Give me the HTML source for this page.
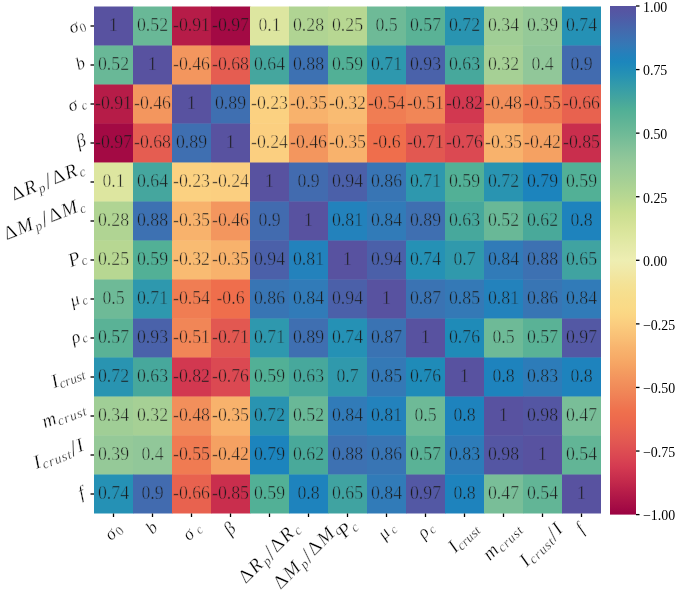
<!DOCTYPE html>
<html><head><meta charset="utf-8"><style>
html,body{margin:0;padding:0;background:#fff;}
svg{display:block;}
.an{font-family:"Liberation Serif","DejaVu Serif",serif;font-size:17.80px;fill:#1a1a1a;text-anchor:middle;}
.lb{font-family:"Liberation Serif","DejaVu Serif",serif;font-size:19.40px;fill:#000;stroke:#fff;stroke-width:0.30px;}
.cl{stroke:none;}
.cl{font-family:"Liberation Serif","DejaVu Serif",serif;font-size:13.90px;fill:#000;}
.tk{stroke:#000;stroke-width:1.30;}
</style></head><body>
<svg width="678" height="594" viewBox="0 0 678 594">
<defs><linearGradient id="cb" x1="0" y1="0" x2="0" y2="1"><stop offset="0.0000" stop-color="#5852a0"/><stop offset="0.0156" stop-color="#5358a4"/><stop offset="0.0312" stop-color="#4b60a9"/><stop offset="0.0469" stop-color="#4469ad"/><stop offset="0.0625" stop-color="#3c71b2"/><stop offset="0.0781" stop-color="#3379b6"/><stop offset="0.0938" stop-color="#2580bb"/><stop offset="0.1094" stop-color="#1c86bc"/><stop offset="0.1250" stop-color="#218db7"/><stop offset="0.1406" stop-color="#2994b1"/><stop offset="0.1562" stop-color="#339baa"/><stop offset="0.1719" stop-color="#3da1a3"/><stop offset="0.1875" stop-color="#47a79c"/><stop offset="0.2031" stop-color="#50af96"/><stop offset="0.2188" stop-color="#5ab296"/><stop offset="0.2344" stop-color="#64b696"/><stop offset="0.2500" stop-color="#6eba97"/><stop offset="0.2656" stop-color="#79be98"/><stop offset="0.2812" stop-color="#84c299"/><stop offset="0.2969" stop-color="#8ec699"/><stop offset="0.3125" stop-color="#97ca98"/><stop offset="0.3281" stop-color="#9ecd97"/><stop offset="0.3438" stop-color="#a6d095"/><stop offset="0.3594" stop-color="#aed493"/><stop offset="0.3750" stop-color="#b7d792"/><stop offset="0.3906" stop-color="#c0db90"/><stop offset="0.4062" stop-color="#cadf90"/><stop offset="0.4219" stop-color="#d1e195"/><stop offset="0.4375" stop-color="#d8e49a"/><stop offset="0.4531" stop-color="#dde7a0"/><stop offset="0.4688" stop-color="#e3e9a7"/><stop offset="0.4844" stop-color="#e8ebad"/><stop offset="0.5000" stop-color="#eeeeb2"/><stop offset="0.5156" stop-color="#f0eaaa"/><stop offset="0.5312" stop-color="#f2e6a0"/><stop offset="0.5469" stop-color="#f4e296"/><stop offset="0.5625" stop-color="#f6df8f"/><stop offset="0.5781" stop-color="#f8dc8a"/><stop offset="0.5938" stop-color="#fada87"/><stop offset="0.6094" stop-color="#fbd583"/><stop offset="0.6250" stop-color="#fbcd7f"/><stop offset="0.6406" stop-color="#fac579"/><stop offset="0.6562" stop-color="#f9bd74"/><stop offset="0.6719" stop-color="#f8b46e"/><stop offset="0.6875" stop-color="#f7ad69"/><stop offset="0.7031" stop-color="#f6a564"/><stop offset="0.7188" stop-color="#f49c60"/><stop offset="0.7344" stop-color="#f3935d"/><stop offset="0.7500" stop-color="#f18b59"/><stop offset="0.7656" stop-color="#f08256"/><stop offset="0.7812" stop-color="#ef7952"/><stop offset="0.7969" stop-color="#ef704d"/><stop offset="0.8125" stop-color="#ed6a4d"/><stop offset="0.8281" stop-color="#e9644f"/><stop offset="0.8438" stop-color="#e55d51"/><stop offset="0.8594" stop-color="#e15652"/><stop offset="0.8750" stop-color="#dd4d52"/><stop offset="0.8906" stop-color="#d94452"/><stop offset="0.9062" stop-color="#d43a51"/><stop offset="0.9219" stop-color="#cb314e"/><stop offset="0.9375" stop-color="#c2284b"/><stop offset="0.9531" stop-color="#b81e49"/><stop offset="0.9688" stop-color="#ae1547"/><stop offset="0.9844" stop-color="#a50c45"/><stop offset="1.0000" stop-color="#9b0242"/></linearGradient></defs>
<rect x="0" y="0" width="678" height="594" fill="#ffffff"/>
<rect x="94.00" y="6.50" width="39.40" height="39.40" fill="#5852a0"/>
<rect x="133.00" y="6.50" width="39.40" height="39.40" fill="#69b897"/>
<rect x="172.00" y="6.50" width="39.40" height="39.40" fill="#b61c48"/>
<rect x="211.00" y="6.50" width="39.40" height="39.40" fill="#a30a44"/>
<rect x="250.00" y="6.50" width="39.40" height="39.40" fill="#dde6a0"/>
<rect x="289.00" y="6.50" width="39.40" height="39.40" fill="#b0d493"/>
<rect x="328.00" y="6.50" width="39.40" height="39.40" fill="#b7d792"/>
<rect x="367.00" y="6.50" width="39.40" height="39.40" fill="#6eba97"/>
<rect x="406.00" y="6.50" width="39.40" height="39.40" fill="#5ab296"/>
<rect x="445.00" y="6.50" width="39.40" height="39.40" fill="#2994b1"/>
<rect x="484.00" y="6.50" width="39.40" height="39.40" fill="#a0ce96"/>
<rect x="523.00" y="6.50" width="39.40" height="39.40" fill="#95c998"/>
<rect x="562.00" y="6.50" width="39.00" height="39.40" fill="#2591b5"/>
<rect x="94.00" y="45.50" width="39.40" height="39.40" fill="#69b897"/>
<rect x="133.00" y="45.50" width="39.40" height="39.40" fill="#5852a0"/>
<rect x="172.00" y="45.50" width="39.40" height="39.40" fill="#f3965e"/>
<rect x="211.00" y="45.50" width="39.40" height="39.40" fill="#e55d51"/>
<rect x="250.00" y="45.50" width="39.40" height="39.40" fill="#45a69e"/>
<rect x="289.00" y="45.50" width="39.40" height="39.40" fill="#3d71b2"/>
<rect x="328.00" y="45.50" width="39.40" height="39.40" fill="#52b096"/>
<rect x="367.00" y="45.50" width="39.40" height="39.40" fill="#2e98ae"/>
<rect x="406.00" y="45.50" width="39.40" height="39.40" fill="#4a62aa"/>
<rect x="445.00" y="45.50" width="39.40" height="39.40" fill="#47a89c"/>
<rect x="484.00" y="45.50" width="39.40" height="39.40" fill="#a6d095"/>
<rect x="523.00" y="45.50" width="39.40" height="39.40" fill="#91c799"/>
<rect x="562.00" y="45.50" width="39.00" height="39.40" fill="#426baf"/>
<rect x="94.00" y="84.50" width="39.40" height="39.40" fill="#b61c48"/>
<rect x="133.00" y="84.50" width="39.40" height="39.40" fill="#f3965e"/>
<rect x="172.00" y="84.50" width="39.40" height="39.40" fill="#5852a0"/>
<rect x="211.00" y="84.50" width="39.40" height="39.40" fill="#3f6fb1"/>
<rect x="250.00" y="84.50" width="39.40" height="39.40" fill="#fbd181"/>
<rect x="289.00" y="84.50" width="39.40" height="39.40" fill="#f8b26c"/>
<rect x="328.00" y="84.50" width="39.40" height="39.40" fill="#f9bb72"/>
<rect x="367.00" y="84.50" width="39.40" height="39.40" fill="#f07d53"/>
<rect x="406.00" y="84.50" width="39.40" height="39.40" fill="#f18657"/>
<rect x="445.00" y="84.50" width="39.40" height="39.40" fill="#d23850"/>
<rect x="484.00" y="84.50" width="39.40" height="39.40" fill="#f28f5b"/>
<rect x="523.00" y="84.50" width="39.40" height="39.40" fill="#f07b52"/>
<rect x="562.00" y="84.50" width="39.00" height="39.40" fill="#e8624f"/>
<rect x="94.00" y="123.50" width="39.40" height="39.40" fill="#a30a44"/>
<rect x="133.00" y="123.50" width="39.40" height="39.40" fill="#e55d51"/>
<rect x="172.00" y="123.50" width="39.40" height="39.40" fill="#3f6fb1"/>
<rect x="211.00" y="123.50" width="39.40" height="39.40" fill="#5852a0"/>
<rect x="250.00" y="123.50" width="39.40" height="39.40" fill="#fbcf80"/>
<rect x="289.00" y="123.50" width="39.40" height="39.40" fill="#f3965e"/>
<rect x="328.00" y="123.50" width="39.40" height="39.40" fill="#f8b26c"/>
<rect x="367.00" y="123.50" width="39.40" height="39.40" fill="#ef6e4c"/>
<rect x="406.00" y="123.50" width="39.40" height="39.40" fill="#e25851"/>
<rect x="445.00" y="123.50" width="39.40" height="39.40" fill="#db4952"/>
<rect x="484.00" y="123.50" width="39.40" height="39.40" fill="#f8b26c"/>
<rect x="523.00" y="123.50" width="39.40" height="39.40" fill="#f5a162"/>
<rect x="562.00" y="123.50" width="39.00" height="39.40" fill="#c92e4d"/>
<rect x="94.00" y="162.50" width="39.40" height="39.40" fill="#dde6a0"/>
<rect x="133.00" y="162.50" width="39.40" height="39.40" fill="#45a69e"/>
<rect x="172.00" y="162.50" width="39.40" height="39.40" fill="#fbd181"/>
<rect x="211.00" y="162.50" width="39.40" height="39.40" fill="#fbcf80"/>
<rect x="250.00" y="162.50" width="39.40" height="39.40" fill="#5852a0"/>
<rect x="289.00" y="162.50" width="39.40" height="39.40" fill="#426baf"/>
<rect x="328.00" y="162.50" width="39.40" height="39.40" fill="#4b60a9"/>
<rect x="367.00" y="162.50" width="39.40" height="39.40" fill="#3875b4"/>
<rect x="406.00" y="162.50" width="39.40" height="39.40" fill="#2e98ae"/>
<rect x="445.00" y="162.50" width="39.40" height="39.40" fill="#52b096"/>
<rect x="484.00" y="162.50" width="39.40" height="39.40" fill="#2994b1"/>
<rect x="523.00" y="162.50" width="39.40" height="39.40" fill="#1c84bd"/>
<rect x="562.00" y="162.50" width="39.00" height="39.40" fill="#52b096"/>
<rect x="94.00" y="201.50" width="39.40" height="39.40" fill="#b0d493"/>
<rect x="133.00" y="201.50" width="39.40" height="39.40" fill="#3d71b2"/>
<rect x="172.00" y="201.50" width="39.40" height="39.40" fill="#f8b26c"/>
<rect x="211.00" y="201.50" width="39.40" height="39.40" fill="#f3965e"/>
<rect x="250.00" y="201.50" width="39.40" height="39.40" fill="#426baf"/>
<rect x="289.00" y="201.50" width="39.40" height="39.40" fill="#5852a0"/>
<rect x="328.00" y="201.50" width="39.40" height="39.40" fill="#2382bc"/>
<rect x="367.00" y="201.50" width="39.40" height="39.40" fill="#317bb8"/>
<rect x="406.00" y="201.50" width="39.40" height="39.40" fill="#3f6fb1"/>
<rect x="445.00" y="201.50" width="39.40" height="39.40" fill="#47a89c"/>
<rect x="484.00" y="201.50" width="39.40" height="39.40" fill="#69b897"/>
<rect x="523.00" y="201.50" width="39.40" height="39.40" fill="#49a99a"/>
<rect x="562.00" y="201.50" width="39.00" height="39.40" fill="#1e83bd"/>
<rect x="94.00" y="240.50" width="39.40" height="39.40" fill="#b7d792"/>
<rect x="133.00" y="240.50" width="39.40" height="39.40" fill="#52b096"/>
<rect x="172.00" y="240.50" width="39.40" height="39.40" fill="#f9bb72"/>
<rect x="211.00" y="240.50" width="39.40" height="39.40" fill="#f8b26c"/>
<rect x="250.00" y="240.50" width="39.40" height="39.40" fill="#4b60a9"/>
<rect x="289.00" y="240.50" width="39.40" height="39.40" fill="#2382bc"/>
<rect x="328.00" y="240.50" width="39.40" height="39.40" fill="#5852a0"/>
<rect x="367.00" y="240.50" width="39.40" height="39.40" fill="#4b60a9"/>
<rect x="406.00" y="240.50" width="39.40" height="39.40" fill="#2591b5"/>
<rect x="445.00" y="240.50" width="39.40" height="39.40" fill="#3099ac"/>
<rect x="484.00" y="240.50" width="39.40" height="39.40" fill="#317bb8"/>
<rect x="523.00" y="240.50" width="39.40" height="39.40" fill="#3d71b2"/>
<rect x="562.00" y="240.50" width="39.00" height="39.40" fill="#40a3a1"/>
<rect x="94.00" y="279.50" width="39.40" height="39.40" fill="#6eba97"/>
<rect x="133.00" y="279.50" width="39.40" height="39.40" fill="#2e98ae"/>
<rect x="172.00" y="279.50" width="39.40" height="39.40" fill="#f07d53"/>
<rect x="211.00" y="279.50" width="39.40" height="39.40" fill="#ef6e4c"/>
<rect x="250.00" y="279.50" width="39.40" height="39.40" fill="#3875b4"/>
<rect x="289.00" y="279.50" width="39.40" height="39.40" fill="#317bb8"/>
<rect x="328.00" y="279.50" width="39.40" height="39.40" fill="#4b60a9"/>
<rect x="367.00" y="279.50" width="39.40" height="39.40" fill="#5852a0"/>
<rect x="406.00" y="279.50" width="39.40" height="39.40" fill="#3a73b3"/>
<rect x="445.00" y="279.50" width="39.40" height="39.40" fill="#3479b6"/>
<rect x="484.00" y="279.50" width="39.40" height="39.40" fill="#2382bc"/>
<rect x="523.00" y="279.50" width="39.40" height="39.40" fill="#3875b4"/>
<rect x="562.00" y="279.50" width="39.00" height="39.40" fill="#317bb8"/>
<rect x="94.00" y="318.50" width="39.40" height="39.40" fill="#5ab296"/>
<rect x="133.00" y="318.50" width="39.40" height="39.40" fill="#4a62aa"/>
<rect x="172.00" y="318.50" width="39.40" height="39.40" fill="#f18657"/>
<rect x="211.00" y="318.50" width="39.40" height="39.40" fill="#e25851"/>
<rect x="250.00" y="318.50" width="39.40" height="39.40" fill="#2e98ae"/>
<rect x="289.00" y="318.50" width="39.40" height="39.40" fill="#3f6fb1"/>
<rect x="328.00" y="318.50" width="39.40" height="39.40" fill="#2591b5"/>
<rect x="367.00" y="318.50" width="39.40" height="39.40" fill="#3a73b3"/>
<rect x="406.00" y="318.50" width="39.40" height="39.40" fill="#5852a0"/>
<rect x="445.00" y="318.50" width="39.40" height="39.40" fill="#1f8bb8"/>
<rect x="484.00" y="318.50" width="39.40" height="39.40" fill="#6eba97"/>
<rect x="523.00" y="318.50" width="39.40" height="39.40" fill="#5ab296"/>
<rect x="562.00" y="318.50" width="39.00" height="39.40" fill="#5358a4"/>
<rect x="94.00" y="357.50" width="39.40" height="39.40" fill="#2994b1"/>
<rect x="133.00" y="357.50" width="39.40" height="39.40" fill="#47a89c"/>
<rect x="172.00" y="357.50" width="39.40" height="39.40" fill="#d23850"/>
<rect x="211.00" y="357.50" width="39.40" height="39.40" fill="#db4952"/>
<rect x="250.00" y="357.50" width="39.40" height="39.40" fill="#52b096"/>
<rect x="289.00" y="357.50" width="39.40" height="39.40" fill="#47a89c"/>
<rect x="328.00" y="357.50" width="39.40" height="39.40" fill="#3099ac"/>
<rect x="367.00" y="357.50" width="39.40" height="39.40" fill="#3479b6"/>
<rect x="406.00" y="357.50" width="39.40" height="39.40" fill="#1f8bb8"/>
<rect x="445.00" y="357.50" width="39.40" height="39.40" fill="#5852a0"/>
<rect x="484.00" y="357.50" width="39.40" height="39.40" fill="#1e83bd"/>
<rect x="523.00" y="357.50" width="39.40" height="39.40" fill="#2d7cb9"/>
<rect x="562.00" y="357.50" width="39.00" height="39.40" fill="#1e83bd"/>
<rect x="94.00" y="396.50" width="39.40" height="39.40" fill="#a0ce96"/>
<rect x="133.00" y="396.50" width="39.40" height="39.40" fill="#a6d095"/>
<rect x="172.00" y="396.50" width="39.40" height="39.40" fill="#f28f5b"/>
<rect x="211.00" y="396.50" width="39.40" height="39.40" fill="#f8b26c"/>
<rect x="250.00" y="396.50" width="39.40" height="39.40" fill="#2994b1"/>
<rect x="289.00" y="396.50" width="39.40" height="39.40" fill="#69b897"/>
<rect x="328.00" y="396.50" width="39.40" height="39.40" fill="#317bb8"/>
<rect x="367.00" y="396.50" width="39.40" height="39.40" fill="#2382bc"/>
<rect x="406.00" y="396.50" width="39.40" height="39.40" fill="#6eba97"/>
<rect x="445.00" y="396.50" width="39.40" height="39.40" fill="#1e83bd"/>
<rect x="484.00" y="396.50" width="39.40" height="39.40" fill="#5852a0"/>
<rect x="523.00" y="396.50" width="39.40" height="39.40" fill="#5456a3"/>
<rect x="562.00" y="396.50" width="39.00" height="39.40" fill="#79be98"/>
<rect x="94.00" y="435.50" width="39.40" height="39.40" fill="#95c998"/>
<rect x="133.00" y="435.50" width="39.40" height="39.40" fill="#91c799"/>
<rect x="172.00" y="435.50" width="39.40" height="39.40" fill="#f07b52"/>
<rect x="211.00" y="435.50" width="39.40" height="39.40" fill="#f5a162"/>
<rect x="250.00" y="435.50" width="39.40" height="39.40" fill="#1c84bd"/>
<rect x="289.00" y="435.50" width="39.40" height="39.40" fill="#49a99a"/>
<rect x="328.00" y="435.50" width="39.40" height="39.40" fill="#3d71b2"/>
<rect x="367.00" y="435.50" width="39.40" height="39.40" fill="#3875b4"/>
<rect x="406.00" y="435.50" width="39.40" height="39.40" fill="#5ab296"/>
<rect x="445.00" y="435.50" width="39.40" height="39.40" fill="#2d7cb9"/>
<rect x="484.00" y="435.50" width="39.40" height="39.40" fill="#5456a3"/>
<rect x="523.00" y="435.50" width="39.40" height="39.40" fill="#5852a0"/>
<rect x="562.00" y="435.50" width="39.00" height="39.40" fill="#62b596"/>
<rect x="94.00" y="474.50" width="39.40" height="39.00" fill="#2591b5"/>
<rect x="133.00" y="474.50" width="39.40" height="39.00" fill="#426baf"/>
<rect x="172.00" y="474.50" width="39.40" height="39.00" fill="#e8624f"/>
<rect x="211.00" y="474.50" width="39.40" height="39.00" fill="#c92e4d"/>
<rect x="250.00" y="474.50" width="39.40" height="39.00" fill="#52b096"/>
<rect x="289.00" y="474.50" width="39.40" height="39.00" fill="#1e83bd"/>
<rect x="328.00" y="474.50" width="39.40" height="39.00" fill="#40a3a1"/>
<rect x="367.00" y="474.50" width="39.40" height="39.00" fill="#317bb8"/>
<rect x="406.00" y="474.50" width="39.40" height="39.00" fill="#5358a4"/>
<rect x="445.00" y="474.50" width="39.40" height="39.00" fill="#1e83bd"/>
<rect x="484.00" y="474.50" width="39.40" height="39.00" fill="#79be98"/>
<rect x="523.00" y="474.50" width="39.40" height="39.00" fill="#62b596"/>
<rect x="562.00" y="474.50" width="39.00" height="39.00" fill="#5852a0"/>
<text x="113.50" y="31.10" class="an" stroke="#5852a0" stroke-width="0.50">1</text>
<text x="152.50" y="31.10" class="an" stroke="#69b897" stroke-width="0.50">0.52</text>
<text x="191.50" y="31.10" class="an" stroke="#b61c48" stroke-width="0.50">-0.91</text>
<text x="230.50" y="31.10" class="an" stroke="#a30a44" stroke-width="0.50">-0.97</text>
<text x="269.50" y="31.10" class="an" stroke="#dde6a0" stroke-width="0.50">0.1</text>
<text x="308.50" y="31.10" class="an" stroke="#b0d493" stroke-width="0.50">0.28</text>
<text x="347.50" y="31.10" class="an" stroke="#b7d792" stroke-width="0.50">0.25</text>
<text x="386.50" y="31.10" class="an" stroke="#6eba97" stroke-width="0.50">0.5</text>
<text x="425.50" y="31.10" class="an" stroke="#5ab296" stroke-width="0.50">0.57</text>
<text x="464.50" y="31.10" class="an" stroke="#2994b1" stroke-width="0.50">0.72</text>
<text x="503.50" y="31.10" class="an" stroke="#a0ce96" stroke-width="0.50">0.34</text>
<text x="542.50" y="31.10" class="an" stroke="#95c998" stroke-width="0.50">0.39</text>
<text x="581.50" y="31.10" class="an" stroke="#2591b5" stroke-width="0.50">0.74</text>
<text x="113.50" y="70.10" class="an" stroke="#69b897" stroke-width="0.50">0.52</text>
<text x="152.50" y="70.10" class="an" stroke="#5852a0" stroke-width="0.50">1</text>
<text x="191.50" y="70.10" class="an" stroke="#f3965e" stroke-width="0.50">-0.46</text>
<text x="230.50" y="70.10" class="an" stroke="#e55d51" stroke-width="0.50">-0.68</text>
<text x="269.50" y="70.10" class="an" stroke="#45a69e" stroke-width="0.50">0.64</text>
<text x="308.50" y="70.10" class="an" stroke="#3d71b2" stroke-width="0.50">0.88</text>
<text x="347.50" y="70.10" class="an" stroke="#52b096" stroke-width="0.50">0.59</text>
<text x="386.50" y="70.10" class="an" stroke="#2e98ae" stroke-width="0.50">0.71</text>
<text x="425.50" y="70.10" class="an" stroke="#4a62aa" stroke-width="0.50">0.93</text>
<text x="464.50" y="70.10" class="an" stroke="#47a89c" stroke-width="0.50">0.63</text>
<text x="503.50" y="70.10" class="an" stroke="#a6d095" stroke-width="0.50">0.32</text>
<text x="542.50" y="70.10" class="an" stroke="#91c799" stroke-width="0.50">0.4</text>
<text x="581.50" y="70.10" class="an" stroke="#426baf" stroke-width="0.50">0.9</text>
<text x="113.50" y="109.10" class="an" stroke="#b61c48" stroke-width="0.50">-0.91</text>
<text x="152.50" y="109.10" class="an" stroke="#f3965e" stroke-width="0.50">-0.46</text>
<text x="191.50" y="109.10" class="an" stroke="#5852a0" stroke-width="0.50">1</text>
<text x="230.50" y="109.10" class="an" stroke="#3f6fb1" stroke-width="0.50">0.89</text>
<text x="269.50" y="109.10" class="an" stroke="#fbd181" stroke-width="0.50">-0.23</text>
<text x="308.50" y="109.10" class="an" stroke="#f8b26c" stroke-width="0.50">-0.35</text>
<text x="347.50" y="109.10" class="an" stroke="#f9bb72" stroke-width="0.50">-0.32</text>
<text x="386.50" y="109.10" class="an" stroke="#f07d53" stroke-width="0.50">-0.54</text>
<text x="425.50" y="109.10" class="an" stroke="#f18657" stroke-width="0.50">-0.51</text>
<text x="464.50" y="109.10" class="an" stroke="#d23850" stroke-width="0.50">-0.82</text>
<text x="503.50" y="109.10" class="an" stroke="#f28f5b" stroke-width="0.50">-0.48</text>
<text x="542.50" y="109.10" class="an" stroke="#f07b52" stroke-width="0.50">-0.55</text>
<text x="581.50" y="109.10" class="an" stroke="#e8624f" stroke-width="0.50">-0.66</text>
<text x="113.50" y="148.10" class="an" stroke="#a30a44" stroke-width="0.50">-0.97</text>
<text x="152.50" y="148.10" class="an" stroke="#e55d51" stroke-width="0.50">-0.68</text>
<text x="191.50" y="148.10" class="an" stroke="#3f6fb1" stroke-width="0.50">0.89</text>
<text x="230.50" y="148.10" class="an" stroke="#5852a0" stroke-width="0.50">1</text>
<text x="269.50" y="148.10" class="an" stroke="#fbcf80" stroke-width="0.50">-0.24</text>
<text x="308.50" y="148.10" class="an" stroke="#f3965e" stroke-width="0.50">-0.46</text>
<text x="347.50" y="148.10" class="an" stroke="#f8b26c" stroke-width="0.50">-0.35</text>
<text x="386.50" y="148.10" class="an" stroke="#ef6e4c" stroke-width="0.50">-0.6</text>
<text x="425.50" y="148.10" class="an" stroke="#e25851" stroke-width="0.50">-0.71</text>
<text x="464.50" y="148.10" class="an" stroke="#db4952" stroke-width="0.50">-0.76</text>
<text x="503.50" y="148.10" class="an" stroke="#f8b26c" stroke-width="0.50">-0.35</text>
<text x="542.50" y="148.10" class="an" stroke="#f5a162" stroke-width="0.50">-0.42</text>
<text x="581.50" y="148.10" class="an" stroke="#c92e4d" stroke-width="0.50">-0.85</text>
<text x="113.50" y="187.10" class="an" stroke="#dde6a0" stroke-width="0.50">0.1</text>
<text x="152.50" y="187.10" class="an" stroke="#45a69e" stroke-width="0.50">0.64</text>
<text x="191.50" y="187.10" class="an" stroke="#fbd181" stroke-width="0.50">-0.23</text>
<text x="230.50" y="187.10" class="an" stroke="#fbcf80" stroke-width="0.50">-0.24</text>
<text x="269.50" y="187.10" class="an" stroke="#5852a0" stroke-width="0.50">1</text>
<text x="308.50" y="187.10" class="an" stroke="#426baf" stroke-width="0.50">0.9</text>
<text x="347.50" y="187.10" class="an" stroke="#4b60a9" stroke-width="0.50">0.94</text>
<text x="386.50" y="187.10" class="an" stroke="#3875b4" stroke-width="0.50">0.86</text>
<text x="425.50" y="187.10" class="an" stroke="#2e98ae" stroke-width="0.50">0.71</text>
<text x="464.50" y="187.10" class="an" stroke="#52b096" stroke-width="0.50">0.59</text>
<text x="503.50" y="187.10" class="an" stroke="#2994b1" stroke-width="0.50">0.72</text>
<text x="542.50" y="187.10" class="an" stroke="#1c84bd" stroke-width="0.50">0.79</text>
<text x="581.50" y="187.10" class="an" stroke="#52b096" stroke-width="0.50">0.59</text>
<text x="113.50" y="226.10" class="an" stroke="#b0d493" stroke-width="0.50">0.28</text>
<text x="152.50" y="226.10" class="an" stroke="#3d71b2" stroke-width="0.50">0.88</text>
<text x="191.50" y="226.10" class="an" stroke="#f8b26c" stroke-width="0.50">-0.35</text>
<text x="230.50" y="226.10" class="an" stroke="#f3965e" stroke-width="0.50">-0.46</text>
<text x="269.50" y="226.10" class="an" stroke="#426baf" stroke-width="0.50">0.9</text>
<text x="308.50" y="226.10" class="an" stroke="#5852a0" stroke-width="0.50">1</text>
<text x="347.50" y="226.10" class="an" stroke="#2382bc" stroke-width="0.50">0.81</text>
<text x="386.50" y="226.10" class="an" stroke="#317bb8" stroke-width="0.50">0.84</text>
<text x="425.50" y="226.10" class="an" stroke="#3f6fb1" stroke-width="0.50">0.89</text>
<text x="464.50" y="226.10" class="an" stroke="#47a89c" stroke-width="0.50">0.63</text>
<text x="503.50" y="226.10" class="an" stroke="#69b897" stroke-width="0.50">0.52</text>
<text x="542.50" y="226.10" class="an" stroke="#49a99a" stroke-width="0.50">0.62</text>
<text x="581.50" y="226.10" class="an" stroke="#1e83bd" stroke-width="0.50">0.8</text>
<text x="113.50" y="265.10" class="an" stroke="#b7d792" stroke-width="0.50">0.25</text>
<text x="152.50" y="265.10" class="an" stroke="#52b096" stroke-width="0.50">0.59</text>
<text x="191.50" y="265.10" class="an" stroke="#f9bb72" stroke-width="0.50">-0.32</text>
<text x="230.50" y="265.10" class="an" stroke="#f8b26c" stroke-width="0.50">-0.35</text>
<text x="269.50" y="265.10" class="an" stroke="#4b60a9" stroke-width="0.50">0.94</text>
<text x="308.50" y="265.10" class="an" stroke="#2382bc" stroke-width="0.50">0.81</text>
<text x="347.50" y="265.10" class="an" stroke="#5852a0" stroke-width="0.50">1</text>
<text x="386.50" y="265.10" class="an" stroke="#4b60a9" stroke-width="0.50">0.94</text>
<text x="425.50" y="265.10" class="an" stroke="#2591b5" stroke-width="0.50">0.74</text>
<text x="464.50" y="265.10" class="an" stroke="#3099ac" stroke-width="0.50">0.7</text>
<text x="503.50" y="265.10" class="an" stroke="#317bb8" stroke-width="0.50">0.84</text>
<text x="542.50" y="265.10" class="an" stroke="#3d71b2" stroke-width="0.50">0.88</text>
<text x="581.50" y="265.10" class="an" stroke="#40a3a1" stroke-width="0.50">0.65</text>
<text x="113.50" y="304.10" class="an" stroke="#6eba97" stroke-width="0.50">0.5</text>
<text x="152.50" y="304.10" class="an" stroke="#2e98ae" stroke-width="0.50">0.71</text>
<text x="191.50" y="304.10" class="an" stroke="#f07d53" stroke-width="0.50">-0.54</text>
<text x="230.50" y="304.10" class="an" stroke="#ef6e4c" stroke-width="0.50">-0.6</text>
<text x="269.50" y="304.10" class="an" stroke="#3875b4" stroke-width="0.50">0.86</text>
<text x="308.50" y="304.10" class="an" stroke="#317bb8" stroke-width="0.50">0.84</text>
<text x="347.50" y="304.10" class="an" stroke="#4b60a9" stroke-width="0.50">0.94</text>
<text x="386.50" y="304.10" class="an" stroke="#5852a0" stroke-width="0.50">1</text>
<text x="425.50" y="304.10" class="an" stroke="#3a73b3" stroke-width="0.50">0.87</text>
<text x="464.50" y="304.10" class="an" stroke="#3479b6" stroke-width="0.50">0.85</text>
<text x="503.50" y="304.10" class="an" stroke="#2382bc" stroke-width="0.50">0.81</text>
<text x="542.50" y="304.10" class="an" stroke="#3875b4" stroke-width="0.50">0.86</text>
<text x="581.50" y="304.10" class="an" stroke="#317bb8" stroke-width="0.50">0.84</text>
<text x="113.50" y="343.10" class="an" stroke="#5ab296" stroke-width="0.50">0.57</text>
<text x="152.50" y="343.10" class="an" stroke="#4a62aa" stroke-width="0.50">0.93</text>
<text x="191.50" y="343.10" class="an" stroke="#f18657" stroke-width="0.50">-0.51</text>
<text x="230.50" y="343.10" class="an" stroke="#e25851" stroke-width="0.50">-0.71</text>
<text x="269.50" y="343.10" class="an" stroke="#2e98ae" stroke-width="0.50">0.71</text>
<text x="308.50" y="343.10" class="an" stroke="#3f6fb1" stroke-width="0.50">0.89</text>
<text x="347.50" y="343.10" class="an" stroke="#2591b5" stroke-width="0.50">0.74</text>
<text x="386.50" y="343.10" class="an" stroke="#3a73b3" stroke-width="0.50">0.87</text>
<text x="425.50" y="343.10" class="an" stroke="#5852a0" stroke-width="0.50">1</text>
<text x="464.50" y="343.10" class="an" stroke="#1f8bb8" stroke-width="0.50">0.76</text>
<text x="503.50" y="343.10" class="an" stroke="#6eba97" stroke-width="0.50">0.5</text>
<text x="542.50" y="343.10" class="an" stroke="#5ab296" stroke-width="0.50">0.57</text>
<text x="581.50" y="343.10" class="an" stroke="#5358a4" stroke-width="0.50">0.97</text>
<text x="113.50" y="382.10" class="an" stroke="#2994b1" stroke-width="0.50">0.72</text>
<text x="152.50" y="382.10" class="an" stroke="#47a89c" stroke-width="0.50">0.63</text>
<text x="191.50" y="382.10" class="an" stroke="#d23850" stroke-width="0.50">-0.82</text>
<text x="230.50" y="382.10" class="an" stroke="#db4952" stroke-width="0.50">-0.76</text>
<text x="269.50" y="382.10" class="an" stroke="#52b096" stroke-width="0.50">0.59</text>
<text x="308.50" y="382.10" class="an" stroke="#47a89c" stroke-width="0.50">0.63</text>
<text x="347.50" y="382.10" class="an" stroke="#3099ac" stroke-width="0.50">0.7</text>
<text x="386.50" y="382.10" class="an" stroke="#3479b6" stroke-width="0.50">0.85</text>
<text x="425.50" y="382.10" class="an" stroke="#1f8bb8" stroke-width="0.50">0.76</text>
<text x="464.50" y="382.10" class="an" stroke="#5852a0" stroke-width="0.50">1</text>
<text x="503.50" y="382.10" class="an" stroke="#1e83bd" stroke-width="0.50">0.8</text>
<text x="542.50" y="382.10" class="an" stroke="#2d7cb9" stroke-width="0.50">0.83</text>
<text x="581.50" y="382.10" class="an" stroke="#1e83bd" stroke-width="0.50">0.8</text>
<text x="113.50" y="421.10" class="an" stroke="#a0ce96" stroke-width="0.50">0.34</text>
<text x="152.50" y="421.10" class="an" stroke="#a6d095" stroke-width="0.50">0.32</text>
<text x="191.50" y="421.10" class="an" stroke="#f28f5b" stroke-width="0.50">-0.48</text>
<text x="230.50" y="421.10" class="an" stroke="#f8b26c" stroke-width="0.50">-0.35</text>
<text x="269.50" y="421.10" class="an" stroke="#2994b1" stroke-width="0.50">0.72</text>
<text x="308.50" y="421.10" class="an" stroke="#69b897" stroke-width="0.50">0.52</text>
<text x="347.50" y="421.10" class="an" stroke="#317bb8" stroke-width="0.50">0.84</text>
<text x="386.50" y="421.10" class="an" stroke="#2382bc" stroke-width="0.50">0.81</text>
<text x="425.50" y="421.10" class="an" stroke="#6eba97" stroke-width="0.50">0.5</text>
<text x="464.50" y="421.10" class="an" stroke="#1e83bd" stroke-width="0.50">0.8</text>
<text x="503.50" y="421.10" class="an" stroke="#5852a0" stroke-width="0.50">1</text>
<text x="542.50" y="421.10" class="an" stroke="#5456a3" stroke-width="0.50">0.98</text>
<text x="581.50" y="421.10" class="an" stroke="#79be98" stroke-width="0.50">0.47</text>
<text x="113.50" y="460.10" class="an" stroke="#95c998" stroke-width="0.50">0.39</text>
<text x="152.50" y="460.10" class="an" stroke="#91c799" stroke-width="0.50">0.4</text>
<text x="191.50" y="460.10" class="an" stroke="#f07b52" stroke-width="0.50">-0.55</text>
<text x="230.50" y="460.10" class="an" stroke="#f5a162" stroke-width="0.50">-0.42</text>
<text x="269.50" y="460.10" class="an" stroke="#1c84bd" stroke-width="0.50">0.79</text>
<text x="308.50" y="460.10" class="an" stroke="#49a99a" stroke-width="0.50">0.62</text>
<text x="347.50" y="460.10" class="an" stroke="#3d71b2" stroke-width="0.50">0.88</text>
<text x="386.50" y="460.10" class="an" stroke="#3875b4" stroke-width="0.50">0.86</text>
<text x="425.50" y="460.10" class="an" stroke="#5ab296" stroke-width="0.50">0.57</text>
<text x="464.50" y="460.10" class="an" stroke="#2d7cb9" stroke-width="0.50">0.83</text>
<text x="503.50" y="460.10" class="an" stroke="#5456a3" stroke-width="0.50">0.98</text>
<text x="542.50" y="460.10" class="an" stroke="#5852a0" stroke-width="0.50">1</text>
<text x="581.50" y="460.10" class="an" stroke="#62b596" stroke-width="0.50">0.54</text>
<text x="113.50" y="499.10" class="an" stroke="#2591b5" stroke-width="0.50">0.74</text>
<text x="152.50" y="499.10" class="an" stroke="#426baf" stroke-width="0.50">0.9</text>
<text x="191.50" y="499.10" class="an" stroke="#e8624f" stroke-width="0.50">-0.66</text>
<text x="230.50" y="499.10" class="an" stroke="#c92e4d" stroke-width="0.50">-0.85</text>
<text x="269.50" y="499.10" class="an" stroke="#52b096" stroke-width="0.50">0.59</text>
<text x="308.50" y="499.10" class="an" stroke="#1e83bd" stroke-width="0.50">0.8</text>
<text x="347.50" y="499.10" class="an" stroke="#40a3a1" stroke-width="0.50">0.65</text>
<text x="386.50" y="499.10" class="an" stroke="#317bb8" stroke-width="0.50">0.84</text>
<text x="425.50" y="499.10" class="an" stroke="#5358a4" stroke-width="0.50">0.97</text>
<text x="464.50" y="499.10" class="an" stroke="#1e83bd" stroke-width="0.50">0.8</text>
<text x="503.50" y="499.10" class="an" stroke="#79be98" stroke-width="0.50">0.47</text>
<text x="542.50" y="499.10" class="an" stroke="#62b596" stroke-width="0.50">0.54</text>
<text x="581.50" y="499.10" class="an" stroke="#5852a0" stroke-width="0.50">1</text>
<line x1="90.50" y1="26.00" x2="94.00" y2="26.00" class="tk"/>
<line x1="113.50" y1="513.50" x2="113.50" y2="517.00" class="tk"/>
<line x1="90.50" y1="65.00" x2="94.00" y2="65.00" class="tk"/>
<line x1="152.50" y1="513.50" x2="152.50" y2="517.00" class="tk"/>
<line x1="90.50" y1="104.00" x2="94.00" y2="104.00" class="tk"/>
<line x1="191.50" y1="513.50" x2="191.50" y2="517.00" class="tk"/>
<line x1="90.50" y1="143.00" x2="94.00" y2="143.00" class="tk"/>
<line x1="230.50" y1="513.50" x2="230.50" y2="517.00" class="tk"/>
<line x1="90.50" y1="182.00" x2="94.00" y2="182.00" class="tk"/>
<line x1="269.50" y1="513.50" x2="269.50" y2="517.00" class="tk"/>
<line x1="90.50" y1="221.00" x2="94.00" y2="221.00" class="tk"/>
<line x1="308.50" y1="513.50" x2="308.50" y2="517.00" class="tk"/>
<line x1="90.50" y1="260.00" x2="94.00" y2="260.00" class="tk"/>
<line x1="347.50" y1="513.50" x2="347.50" y2="517.00" class="tk"/>
<line x1="90.50" y1="299.00" x2="94.00" y2="299.00" class="tk"/>
<line x1="386.50" y1="513.50" x2="386.50" y2="517.00" class="tk"/>
<line x1="90.50" y1="338.00" x2="94.00" y2="338.00" class="tk"/>
<line x1="425.50" y1="513.50" x2="425.50" y2="517.00" class="tk"/>
<line x1="90.50" y1="377.00" x2="94.00" y2="377.00" class="tk"/>
<line x1="464.50" y1="513.50" x2="464.50" y2="517.00" class="tk"/>
<line x1="90.50" y1="416.00" x2="94.00" y2="416.00" class="tk"/>
<line x1="503.50" y1="513.50" x2="503.50" y2="517.00" class="tk"/>
<line x1="90.50" y1="455.00" x2="94.00" y2="455.00" class="tk"/>
<line x1="542.50" y1="513.50" x2="542.50" y2="517.00" class="tk"/>
<line x1="90.50" y1="494.00" x2="94.00" y2="494.00" class="tk"/>
<line x1="581.50" y1="513.50" x2="581.50" y2="517.00" class="tk"/>
<g transform="translate(87.00 27.50)"><text id="y0" class="lb" style="font-size:18.20px;letter-spacing:0.68px" x="0" y="0" text-anchor="end" transform="rotate(-21.5)"><tspan style="font-style:italic;">σ</tspan><tspan style="font-size:12.74px;" dy="2.81">0</tspan></text></g>
<g transform="translate(86.50 67.00)"><text id="y1" class="lb" style="font-size:17.60px;letter-spacing:0.00px" x="0" y="0" text-anchor="end" transform="rotate(-21.5)"><tspan style="font-style:italic;">b</tspan></text></g>
<g transform="translate(90.25 104.25)"><text id="y2" class="lb" style="font-size:18.20px;letter-spacing:3.23px" x="0" y="0" text-anchor="end" transform="rotate(-21.5)"><tspan style="font-style:italic;">σ</tspan><tspan style="font-style:italic;font-size:12.74px;" dy="2.81">c</tspan></text></g>
<g transform="translate(87.25 144.50)"><text id="y3" class="lb" style="font-size:18.60px;letter-spacing:0.00px" x="0" y="0" text-anchor="end" transform="rotate(-21.5)"><tspan style="font-style:italic;">β</tspan></text></g>
<g transform="translate(87.00 171.75)"><text id="y4" class="lb" style="font-size:19.40px;letter-spacing:1.56px" x="0" y="0" text-anchor="end" transform="rotate(-21.5)"><tspan style="">Δ</tspan><tspan style="font-style:italic;">R</tspan><tspan style="font-style:italic;font-size:13.58px;" dy="3.00">p</tspan><tspan style="font-size:23.28px;" dy="-1.06">/</tspan><tspan style="" dy="-1.94">Δ</tspan><tspan style="font-style:italic;">R</tspan><tspan style="font-style:italic;font-size:13.58px;" dy="3.00">c</tspan></text></g>
<g transform="translate(87.50 208.25)"><text id="y5" class="lb" style="font-size:19.40px;letter-spacing:1.51px" x="0" y="0" text-anchor="end" transform="rotate(-21.5)"><tspan style="">Δ</tspan><tspan style="font-style:italic;">M</tspan><tspan style="font-style:italic;font-size:13.58px;" dy="3.00">p</tspan><tspan style="font-size:23.28px;" dy="-1.06">/</tspan><tspan style="" dy="-1.94">Δ</tspan><tspan style="font-style:italic;">M</tspan><tspan style="font-style:italic;font-size:13.58px;" dy="3.00">c</tspan></text></g>
<g transform="translate(87.50 260.75)"><text id="y6" class="lb" style="font-size:19.40px;letter-spacing:-0.13px" x="0" y="0" text-anchor="end" transform="rotate(-21.5)"><tspan style="font-style:italic;">P</tspan><tspan style="font-style:italic;font-size:13.58px;" dy="3.00">c</tspan></text></g>
<g transform="translate(90.00 299.75)"><text id="y7" class="lb" style="font-size:18.00px;letter-spacing:2.10px" x="0" y="0" text-anchor="end" transform="rotate(-21.5)"><tspan style="font-style:italic;">μ</tspan><tspan style="font-style:italic;font-size:12.60px;" dy="2.78">c</tspan></text></g>
<g transform="translate(89.25 337.75)"><text id="y8" class="lb" style="font-size:18.20px;letter-spacing:1.32px" x="0" y="0" text-anchor="end" transform="rotate(-21.5)"><tspan style="font-style:italic;">ρ</tspan><tspan style="font-style:italic;font-size:12.74px;" dy="2.81">c</tspan></text></g>
<g transform="translate(85.50 375.75)"><text id="y9" class="lb" style="font-size:19.40px;letter-spacing:0.03px" x="0" y="0" text-anchor="end" transform="rotate(-21.5)"><tspan style="font-style:italic;">I</tspan><tspan style="font-style:italic;font-size:13.58px;" dy="3.00">crust</tspan></text></g>
<g transform="translate(87.25 411.50)"><text id="y10" class="lb" style="font-size:19.40px;letter-spacing:0.76px" x="0" y="0" text-anchor="end" transform="rotate(-21.5)"><tspan style="font-style:italic;">m</tspan><tspan style="font-style:italic;font-size:13.58px;" dy="3.00">crust</tspan></text></g>
<g transform="translate(85.75 449.50)"><text id="y11" class="lb" style="font-size:19.40px;letter-spacing:0.82px" x="0" y="0" text-anchor="end" transform="rotate(-21.5)"><tspan style="font-style:italic;">I</tspan><tspan style="font-style:italic;font-size:13.58px;" dy="3.00">crust</tspan><tspan style="font-size:23.28px;" dy="-1.06">/</tspan><tspan style="font-style:italic;" dy="-1.94">I</tspan></text></g>
<g transform="translate(85.75 497.25)"><text id="y12" class="lb" style="font-size:18.20px;letter-spacing:0.00px" x="0" y="0" text-anchor="end" transform="rotate(-21.5)"><tspan style="font-style:italic;">f</tspan></text></g>
<g transform="translate(117.25 535.25)"><text id="x0" class="lb" style="font-size:18.20px;letter-spacing:0.68px" x="0" y="0" text-anchor="middle" transform="rotate(-45.0)"><tspan style="font-style:italic;">σ</tspan><tspan style="font-size:12.74px;" dy="2.81">0</tspan></text></g>
<g transform="translate(155.50 531.75)"><text id="x1" class="lb" style="font-size:17.60px;letter-spacing:0.00px" x="0" y="0" text-anchor="middle" transform="rotate(-45.0)"><tspan style="font-style:italic;">b</tspan></text></g>
<g transform="translate(196.75 534.00)"><text id="x2" class="lb" style="font-size:18.20px;letter-spacing:3.23px" x="0" y="0" text-anchor="middle" transform="rotate(-45.0)"><tspan style="font-style:italic;">σ</tspan><tspan style="font-style:italic;font-size:12.74px;" dy="2.81">c</tspan></text></g>
<g transform="translate(233.75 532.75)"><text id="x3" class="lb" style="font-size:18.60px;letter-spacing:0.00px" x="0" y="0" text-anchor="middle" transform="rotate(-45.0)"><tspan style="font-style:italic;">β</tspan></text></g>
<g transform="translate(273.75 556.25)"><text id="x4" class="lb" style="font-size:19.40px;letter-spacing:1.56px" x="0" y="0" text-anchor="middle" transform="rotate(-45.0)"><tspan style="">Δ</tspan><tspan style="font-style:italic;">R</tspan><tspan style="font-style:italic;font-size:13.58px;" dy="3.00">p</tspan><tspan style="font-size:23.28px;" dy="-1.06">/</tspan><tspan style="" dy="-1.94">Δ</tspan><tspan style="font-style:italic;">R</tspan><tspan style="font-style:italic;font-size:13.58px;" dy="3.00">c</tspan></text></g>
<g transform="translate(311.25 559.25)"><text id="x5" class="lb" style="font-size:19.40px;letter-spacing:1.51px" x="0" y="0" text-anchor="middle" transform="rotate(-45.0)"><tspan style="">Δ</tspan><tspan style="font-style:italic;">M</tspan><tspan style="font-style:italic;font-size:13.58px;" dy="3.00">p</tspan><tspan style="font-size:23.28px;" dy="-1.06">/</tspan><tspan style="" dy="-1.94">Δ</tspan><tspan style="font-style:italic;">M</tspan><tspan style="font-style:italic;font-size:13.58px;" dy="3.00">c</tspan></text></g>
<g transform="translate(351.25 532.75)"><text id="x6" class="lb" style="font-size:19.40px;letter-spacing:-0.13px" x="0" y="0" text-anchor="middle" transform="rotate(-45.0)"><tspan style="font-style:italic;">P</tspan><tspan style="font-style:italic;font-size:13.58px;" dy="3.00">c</tspan></text></g>
<g transform="translate(391.25 533.75)"><text id="x7" class="lb" style="font-size:18.00px;letter-spacing:2.10px" x="0" y="0" text-anchor="middle" transform="rotate(-45.0)"><tspan style="font-style:italic;">μ</tspan><tspan style="font-style:italic;font-size:12.60px;" dy="2.78">c</tspan></text></g>
<g transform="translate(430.00 533.50)"><text id="x8" class="lb" style="font-size:18.20px;letter-spacing:1.32px" x="0" y="0" text-anchor="middle" transform="rotate(-45.0)"><tspan style="font-style:italic;">ρ</tspan><tspan style="font-style:italic;font-size:12.74px;" dy="2.81">c</tspan></text></g>
<g transform="translate(467.25 541.50)"><text id="x9" class="lb" style="font-size:19.40px;letter-spacing:0.03px" x="0" y="0" text-anchor="middle" transform="rotate(-45.0)"><tspan style="font-style:italic;">I</tspan><tspan style="font-style:italic;font-size:13.58px;" dy="3.00">crust</tspan></text></g>
<g transform="translate(506.25 545.00)"><text id="x10" class="lb" style="font-size:19.40px;letter-spacing:0.76px" x="0" y="0" text-anchor="middle" transform="rotate(-45.0)"><tspan style="font-style:italic;">m</tspan><tspan style="font-style:italic;font-size:13.58px;" dy="3.00">crust</tspan></text></g>
<g transform="translate(545.50 548.75)"><text id="x11" class="lb" style="font-size:19.40px;letter-spacing:0.82px" x="0" y="0" text-anchor="middle" transform="rotate(-45.0)"><tspan style="font-style:italic;">I</tspan><tspan style="font-style:italic;font-size:13.58px;" dy="3.00">crust</tspan><tspan style="font-size:23.28px;" dy="-1.06">/</tspan><tspan style="font-style:italic;" dy="-1.94">I</tspan></text></g>
<g transform="translate(584.25 532.50)"><text id="x12" class="lb" style="font-size:18.20px;letter-spacing:0.00px" x="0" y="0" text-anchor="middle" transform="rotate(-45.0)"><tspan style="font-style:italic;">f</tspan></text></g>
<rect x="610.00" y="6.00" width="26.00" height="508.60" fill="url(#cb)"/>
<line x1="636.00" y1="6.00" x2="639.50" y2="6.00" class="tk"/>
<text x="643.00" y="11.80" class="cl">1.00</text>
<line x1="636.00" y1="69.58" x2="639.50" y2="69.58" class="tk"/>
<text x="643.00" y="75.38" class="cl">0.75</text>
<line x1="636.00" y1="133.15" x2="639.50" y2="133.15" class="tk"/>
<text x="643.00" y="138.95" class="cl">0.50</text>
<line x1="636.00" y1="196.73" x2="639.50" y2="196.73" class="tk"/>
<text x="643.00" y="202.53" class="cl">0.25</text>
<line x1="636.00" y1="260.30" x2="639.50" y2="260.30" class="tk"/>
<text x="643.00" y="266.10" class="cl">0.00</text>
<line x1="636.00" y1="323.88" x2="639.50" y2="323.88" class="tk"/>
<text x="643.00" y="329.68" class="cl">−0.25</text>
<line x1="636.00" y1="387.45" x2="639.50" y2="387.45" class="tk"/>
<text x="643.00" y="393.25" class="cl">−0.50</text>
<line x1="636.00" y1="451.03" x2="639.50" y2="451.03" class="tk"/>
<text x="643.00" y="456.83" class="cl">−0.75</text>
<line x1="636.00" y1="514.60" x2="639.50" y2="514.60" class="tk"/>
<text x="643.00" y="520.40" class="cl">−1.00</text>
</svg></body></html>
